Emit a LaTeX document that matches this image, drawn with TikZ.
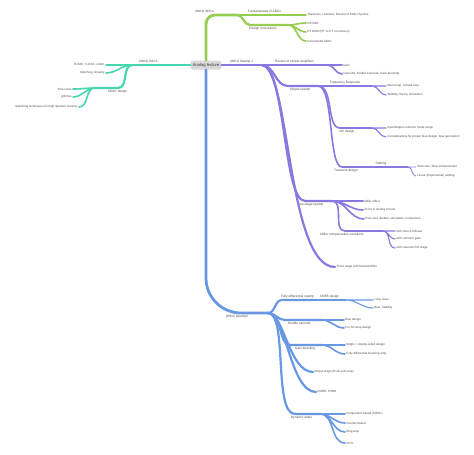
\documentclass[tikz,border=0pt]{standalone}
\usepackage{fontspec}
\setmainfont{Liberation Sans}
\usepackage{xcolor}
\usepackage{tikz}

\definecolor{adcgreen}{RGB}{150,204,80}
\definecolor{dacteal}{RGB}{72,214,176}
\definecolor{opapurple}{RGB}{136,120,224}
\definecolor{opbblue}{RGB}{104,152,228}

\begin{document}
\begin{tikzpicture}[x=1pt,y=-1pt,
  hub/.style={fill=black!15,rounded corners=1.5pt,inner sep=2pt,
              minimum height=9pt,font=\fontsize{4.2}{5}\selectfont,
              text=black!80},
  seg/.style={minimum width=#1,minimum height=0pt,inner sep=0pt,
              outer sep=0pt,anchor=west},
  leaf/.style={font=\fontsize{3}{3.6}\selectfont,text=black!70,
               inner sep=1.2pt,anchor=west},
  lleaf/.style={leaf,anchor=east},
  every label/.style={font=\fontsize{3.2}{3.8}\selectfont,text=black!70,
                      inner sep=0.6pt},
  label distance=1.4pt,
  lv1/.style={draw=#1,line width=2.8pt,line cap=round},
  lv2/.style={draw=#1,line width=2.2pt,line cap=round},
  lv3/.style={draw=#1,line width=1.6pt,line cap=round},
  lv4/.style={draw=#1,line width=1.1pt,line cap=round},
  lv5/.style={draw=#1,line width=0.8pt,line cap=round}]

  \useasboundingbox (0,0) rectangle (474,455);
  \fill[white] (0,0) rectangle (474,455);

  \node[hub] (root) at (206,65) {Analog lecture};

  % ADCs
  \node[seg=31pt,label={[xshift=-17pt]above:{(WK4) ADCs}}] (adc) at (206,15) {};
  \node[seg=55pt,label=above:{Fundamentals of ADCs}] (fund) at (adc.east) {};
  \node[seg=38pt,label={[xshift=-6pt]below:{Design innovations}}] (innov) at (250,25) {};
  \node[leaf] (thm) at (306,15) {Theorems, Lossless, Review of SAR, Pipeline};
  \node[leaf] (nssar) at (306,23) {NS SAR};
  \node[leaf] (dsm) at (306,32) {DT DSM (DT vs CT conversion)};
  \node[leaf] (incr) at (306,41) {Incremental ADCs};

  \draw[lv1=adcgreen,rounded corners=9pt] (root.north) |- (adc.east);
  \draw[lv2=adcgreen] (adc.east) -- (fund.east);
  \draw[lv2=adcgreen] (adc.east) to[out=0,in=180] (innov.west) -- (innov.east);
  \draw[lv3=adcgreen] (fund.east) -- (thm.west);
  \draw[lv3=adcgreen] (innov.east) to[out=0,in=180] (nssar.west)
    (innov.east) to[out=0,in=180] (dsm.west)
    (innov.east) to[out=0,in=180] (incr.west);

  % DACs
  \node[seg=58pt,anchor=east,label={[xshift=-13pt]above:{(WK3) DACs}}] (dac) at (root.west) {};
  \node[lleaf] (rdac) at (106,65) {R-DAC, C-DAC, I-DAC};
  \node[lleaf] (match) at (106,73) {Matching, linearity};
  \node[seg=23pt,anchor=east,label={[xshift=11pt]below:{CDAC design}}] (cdac) at (118,88) {};
  \node[lleaf] (size) at (73,89) {Size issue};
  \node[lleaf] (glitch) at (73,97) {glitches};
  \node[lleaf] (swtech) at (79,107) {Switching techniques for high dynamic linearity};

  \draw[lv1=dacteal] (root.west) -- (dac.west);
  \draw[lv3=dacteal] (dac.west) -- (rdac.east)
    (dac.west) to[out=180,in=0] (match.east);
  \draw[lv2=dacteal] (dac.west) to[out=180,in=0] (cdac.east) -- (cdac.west);
  \draw[lv3=dacteal] (cdac.west) to[out=180,in=0] (size.east)
    (cdac.west) to[out=180,in=0] (glitch.east)
    (cdac.west) to[out=180,in=0] (swtech.east);

  % Opamp 1
  \node[seg=40pt,label=above:{(WK1) Opamp 1}] (op1) at (root.east) {};
  \node[seg=66pt,label=above:{Review of simple amplifiers}] (review) at (op1.east) {};
  \node[leaf] (gain) at (342,65) {Gain};
  \node[leaf] (casc) at (342,74) {Cascode, Folded Cascode, Gain-boosting};
  \node[seg=30pt,label={[xshift=-3pt]below:{Simple opamp}}] (simple) at (288,86) {};
  \node[seg=54pt,label=above:{Frequency Response}] (freq) at (simple.east) {};
  \node[leaf] (oloop) at (386,86) {Open-loop, Closed-loop};
  \node[leaf] (stab) at (386,95) {Stability, theory, simulation};
  \node[seg=32pt,label={[xshift=-9pt]below:{DC design}}] (dcd) at (340,128) {};
  \node[leaf] (iocm) at (386,128) {Input/Output common mode range};
  \node[leaf] (biasgen) at (386,137) {Considerations for proper bias design, bias generation};
  \node[seg=20pt,label={[xshift=-6pt]below:{Transient design}}] (trans) at (342,167) {};
  \node[seg=46pt,label={[xshift=-4pt]above:{Settling}}] (settl) at (trans.east) {};
  \node[leaf] (slew) at (416,167) {Slew rate, Slew enhancement};
  \node[leaf] (linst) at (416,176) {Linear (Exponential) settling};
  \node[seg=27pt,label={[xshift=-8pt]below:{Two-stage opamp}}] (two) at (305,201) {};
  \node[leaf] (miller) at (363,201) {Miller effect};
  \node[leaf] (zeros) at (363,210) {Zeros in analog circuits};
  \node[leaf] (pzd) at (364,219) {Pole-zero doublet, simulation comparison};
  \node[seg=38pt,label={[xshift=-22pt]below:{Miller compensation variations}}] (mcomp) at (345,231) {};
  \node[leaf] (srcf) at (395,231) {with source follower};
  \node[leaf] (cgate) at (395,239) {with common gate};
  \node[leaf] (cfirst) at (395,248) {with cascode first stage};
  \node[leaf] (three) at (335,267) {Three stage with Nested Miller};

  \draw[lv1=opapurple] (root.east) -- (op1.east);
  \draw[lv2=opapurple] (op1.east) -- (review.east);
  \draw[lv3=opapurple] (review.east) -- (gain.west)
    (review.east) to[out=0,in=180] (casc.west);
  \draw[lv2=opapurple] (op1.east) to[out=0,in=180] (simple.west) -- (simple.east);
  \draw[lv3=opapurple] (simple.east) -- (freq.east);
  \draw[lv4=opapurple] (freq.east) -- (oloop.west)
    (freq.east) to[out=0,in=180] (stab.west);
  \draw[lv3=opapurple] (simple.east) .. controls +(16,0) and +(-14,0) .. (dcd.west) -- (dcd.east);
  \draw[lv4=opapurple] (dcd.east) -- (iocm.west)
    (dcd.east) to[out=0,in=180] (biasgen.west);
  \draw[lv3=opapurple] (simple.east) .. controls +(16,0) and +(-14,0) .. (trans.west) -- (trans.east);
  \draw[lv4=opapurple] (trans.east) -- (settl.east);
  \draw[lv5=opapurple] (settl.east) -- (slew.west)
    (settl.east) to[out=0,in=180] (linst.west);
  \draw[lv2=opapurple] (op1.east) .. controls +(24,0) and +(-22,0) .. (two.west) -- (two.east);
  \draw[lv3=opapurple] (two.east) -- (miller.west)
    (two.east) to[out=0,in=180] (zeros.west)
    (two.east) to[out=0,in=180] (pzd.west);
  \draw[lv3=opapurple] (two.east) to[out=0,in=180] (mcomp.west) -- (mcomp.east);
  \draw[lv4=opapurple] (mcomp.east) -- (srcf.west)
    (mcomp.east) to[out=0,in=180] (cgate.west)
    (mcomp.east) to[out=0,in=180] (cfirst.west);
  \draw[lv2=opapurple] (op1.east) .. controls +(28,0) and +(-48,0) .. (three.west);

  % Opamp 2
  \node[seg=62pt,label=below:{(WK2) Opamp2}] (op2) at (206,313) {};
  \node[seg=31pt,label=above:{Fully differential opamp}] (fdo) at (282,300) {};
  \node[seg=33pt,label=above:{CMFB design}] (cmfb) at (fdo.east) {};
  \node[leaf] (loopis) at (373,300) {Loop issue};
  \node[leaf] (bstab) at (373,308) {Bias, Stability};
  \node[seg=37pt,label={[xshift=-4pt]below:{Double cascode}}] (dcas) at (285,320) {};
  \node[leaf] (biasd) at (344,320) {Bias design};
  \node[leaf] (scamp) at (344,328) {For SC amp design};
  \node[seg=32pt,label={[xshift=-1pt]below:{Gain-boosting}}] (gboost) at (290,345) {};
  \node[leaf] (sdsd) at (345,345) {Single + double-sided design};
  \node[leaf] (fdboost) at (345,354) {Fully differential boosting amp};
  \node[leaf] (outst) at (313,372) {Output stage (Push-pull amp)};
  \node[leaf] (cmrr) at (316,392) {CMRR, PSRR};
  \node[seg=25pt,label={[xshift=-6pt]below:{Dynamic amps}}] (dyn) at (295,414) {};
  \node[leaf] (cbsc) at (345,414) {Comparator-based (CBSC)};
  \node[leaf] (invb) at (345,423) {Inverter-based};
  \node[leaf] (ring) at (345,432) {Ring amp};
  \node[leaf] (vco) at (345,443) {VCO};

  \draw[lv1=opbblue,rounded corners=35pt] (root.south) |- (op2.east);
  \draw[lv2=opbblue] (op2.east) to[out=0,in=180] (fdo.west) -- (fdo.east);
  \draw[lv3=opbblue] (fdo.east) -- (cmfb.east);
  \draw[lv4=opbblue] (cmfb.east) -- (loopis.west)
    (cmfb.east) to[out=0,in=180] (bstab.west);
  \draw[lv2=opbblue] (op2.east) to[out=0,in=180] (dcas.west) -- (dcas.east);
  \draw[lv3=opbblue] (dcas.east) -- (biasd.west)
    (dcas.east) to[out=0,in=180] (scamp.west);
  \draw[lv2=opbblue] (op2.east) .. controls +(15,0) and +(-12,0) .. (gboost.west) -- (gboost.east);
  \draw[lv3=opbblue] (gboost.east) -- (sdsd.west)
    (gboost.east) to[out=0,in=180] (fdboost.west);
  \draw[lv2=opbblue] (op2.east) .. controls +(16,0) and +(-24,0) .. (outst.west);
  \draw[lv2=opbblue] (op2.east) .. controls +(18,0) and +(-26,0) .. (cmrr.west);
  \draw[lv2=opbblue] (op2.east) .. controls +(20,0) and +(-22,0) .. (dyn.west) -- (dyn.east);
  \draw[lv3=opbblue] (dyn.east) -- (cbsc.west)
    (dyn.east) to[out=0,in=180] (invb.west)
    (dyn.east) to[out=0,in=180] (ring.west)
    (dyn.east) to[out=0,in=180] (vco.west);
\end{tikzpicture}
\end{document}
